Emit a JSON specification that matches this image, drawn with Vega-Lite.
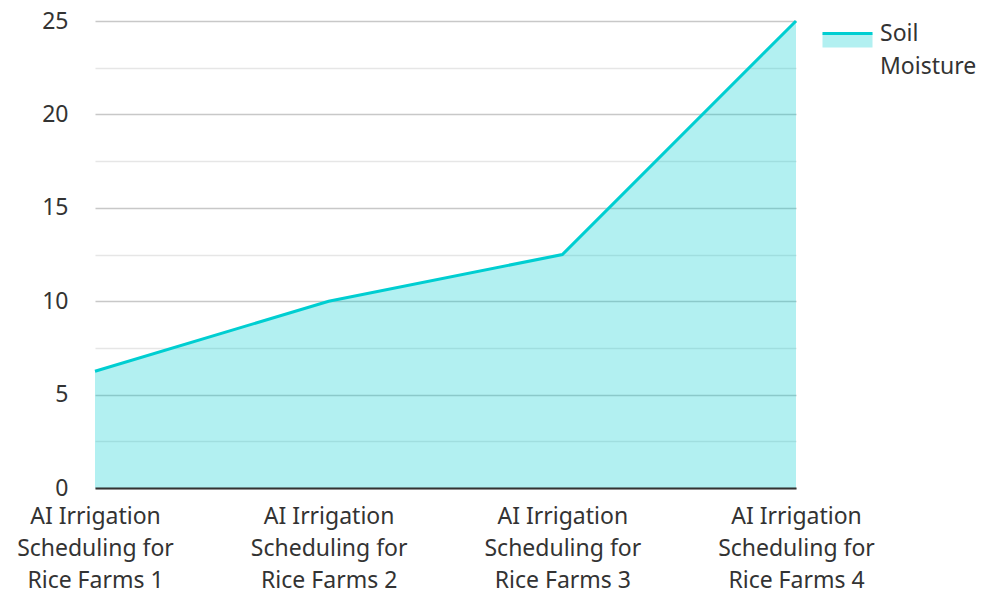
{
  "$schema": "https://vega.github.io/schema/vega-lite/v6.json",
  "width": 701,
  "height": 467,
  "autosize": "none",
  "padding": {"left": 95, "top": 21, "right": 190, "bottom": 103},
  "config": {"font": "Noto Sans", "view": {"stroke": null}},
  "data": {
    "values": [
      {"farm": "AI Irrigation Scheduling for Rice Farms 1", "moisture": 6.25, "series": "Soil Moisture"},
      {"farm": "AI Irrigation Scheduling for Rice Farms 2", "moisture": 10, "series": "Soil Moisture"},
      {"farm": "AI Irrigation Scheduling for Rice Farms 3", "moisture": 12.5, "series": "Soil Moisture"},
      {"farm": "AI Irrigation Scheduling for Rice Farms 4", "moisture": 25, "series": "Soil Moisture"}
    ]
  },
  "encoding": {
    "x": {
      "field": "farm",
      "type": "ordinal",
      "sort": null,
      "scale": {"type": "point", "padding": 0},
      "axis": {
        "title": null,
        "labelAngle": 0,
        "labelExpr": "[substring(datum.label,0,13), substring(datum.label,14,28), substring(datum.label,29)]",
        "labelFontSize": 23,
        "labelColor": "#333333",
        "labelLineHeight": 32,
        "labelPadding": 17,
        "labelLimit": 0,
        "labelOverlap": false,
        "ticks": false,
        "domainColor": "#333333",
        "domainWidth": 2,
        "grid": false,
        "zindex": 2
      }
    },
    "y": {
      "field": "moisture",
      "type": "quantitative",
      "scale": {"domain": [0, 25], "nice": false},
      "axis": {
        "title": null,
        "values": [0, 2.5, 5, 7.5, 10, 12.5, 15, 17.5, 20, 22.5, 25],
        "labelExpr": "datum.value % 5 === 0 ? datum.label : ''",
        "labelFontSize": 23,
        "labelColor": "#333333",
        "labelPadding": 27,
        "ticks": false,
        "domain": false,
        "gridColor": {"condition": {"test": "datum.value % 5 === 0", "value": "#c8c8c8"}, "value": "#e6e6e6"},
        "gridWidth": 1.5
      }
    }
  },
  "layer": [
    {"mark": {"type": "area", "color": "#00ced1", "opacity": 0.3}},
    {
      "mark": {"type": "line", "strokeWidth": 3},
      "encoding": {
        "color": {
          "field": "series",
          "type": "nominal",
          "scale": {"range": ["#00ced1"]},
          "legend": {
            "title": null,
            "orient": "none",
            "legendX": 726,
            "legendY": -7,
            "symbolType": "M-1,-0.28H1V0.28H-1Z",
            "symbolSize": 2500,
            "symbolFillColor": "#b2f0f1",
            "symbolStrokeWidth": 3,
            "symbolDash": [50, 80],
            "symbolOpacity": 1,
            "labelExpr": "['Soil', 'Moisture']",
            "labelFontSize": 23,
            "labelColor": "#333333",
            "labelBaseline": "alphabetic",
            "labelOffset": 6,
            "labelLimit": 0,
            "encode": {"labels": {"update": {"lineHeight": {"value": 33}}}}
          }
        }
      }
    }
  ]
}
